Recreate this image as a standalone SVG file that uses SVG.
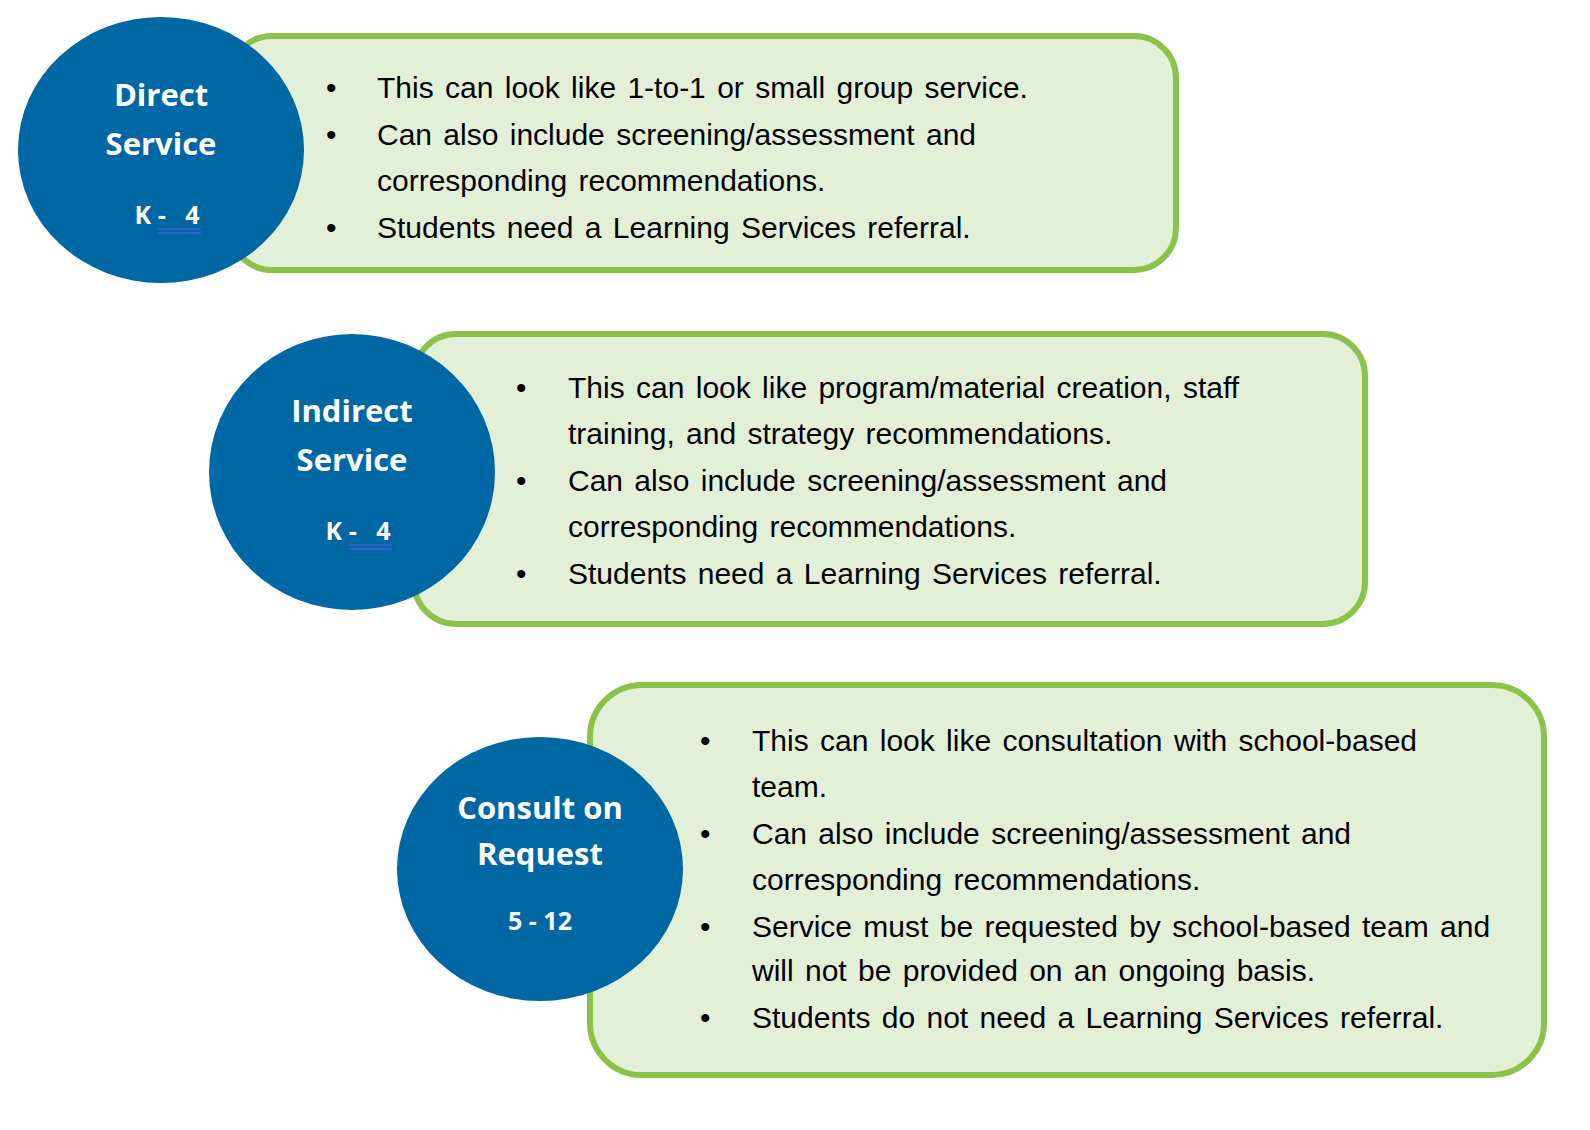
<svg xmlns="http://www.w3.org/2000/svg" width="1590" height="1130" viewBox="0 0 1590 1130">
<style>
.box{fill:#E3F0D8;stroke:#8BC34A;stroke-width:6}
.circ{fill:#0067A5}
.t{font-family:"Liberation Sans",Arial,sans-serif;font-size:30px;word-spacing:3px;fill:#000}
.b{font-family:"Liberation Sans",Arial,sans-serif;font-size:30px;fill:#000}
.h{font-family:"Open Sans","Liberation Sans",sans-serif;font-weight:bold;font-size:31px;fill:#fff;text-anchor:middle}
.g{font-family:"Open Sans","Liberation Sans",sans-serif;font-weight:bold;font-size:25px;fill:#fff;text-anchor:middle}
.ul{stroke:#3A5FD9;stroke-width:1.6}
</style>
<rect width="1590" height="1130" fill="#fff"/>
<g id="node-direct">
<rect class="box" x="230" y="36" width="946" height="234" rx="42"/>
<ellipse class="circ" cx="161" cy="150" rx="143" ry="133"/>
<text class="h" x="161" y="106">Direct</text>
<text class="h" x="161" y="155">Service</text>
<text class="g" x="167" y="224" xml:space="preserve">K -   4</text>
<line class="ul" x1="158" y1="229" x2="201" y2="229"/>
<line class="ul" x1="158" y1="233" x2="201" y2="233"/>
<g class="b">
<text x="326" y="98">•</text><text x="326" y="145">•</text><text x="326" y="238">•</text>
</g>
<g class="t">
<text x="377" y="98">This can look like 1-to-1 or small group service.</text>
<text x="377" y="145">Can also include screening/assessment and</text>
<text x="377" y="191">corresponding recommendations.</text>
<text x="377" y="238">Students need a Learning Services referral.</text>
</g>
</g>
<g id="node-indirect">
<rect class="box" x="414" y="334" width="951" height="290" rx="42"/>
<ellipse class="circ" cx="352" cy="472" rx="143" ry="138"/>
<text class="h" x="352" y="422">Indirect</text>
<text class="h" x="352" y="471">Service</text>
<text class="g" x="358" y="540" xml:space="preserve">K -   4</text>
<line class="ul" x1="349" y1="545" x2="392" y2="545"/>
<line class="ul" x1="349" y1="549" x2="392" y2="549"/>
<g class="b">
<text x="516" y="398">•</text><text x="516" y="491">•</text><text x="516" y="584">•</text>
</g>
<g class="t">
<text x="568" y="398">This can look like program/material creation, staff</text>
<text x="568" y="444">training, and strategy recommendations.</text>
<text x="568" y="491">Can also include screening/assessment and</text>
<text x="568" y="537">corresponding recommendations.</text>
<text x="568" y="584">Students need a Learning Services referral.</text>
</g>
</g>
<g id="node-consult">
<rect class="box" x="590" y="685" width="954" height="390" rx="52"/>
<ellipse class="circ" cx="540" cy="869" rx="143" ry="132"/>
<text class="h" x="540" y="819">Consult on</text>
<text class="h" x="540" y="865">Request</text>
<text class="g" x="540" y="930">5 - 12</text>
<g class="b">
<text x="700" y="751">•</text><text x="700" y="844">•</text><text x="700" y="937">•</text><text x="700" y="1028">•</text>
</g>
<g class="t">
<text x="752" y="751">This can look like consultation with school-based</text>
<text x="752" y="797">team.</text>
<text x="752" y="844">Can also include screening/assessment and</text>
<text x="752" y="890">corresponding recommendations.</text>
<text x="752" y="937">Service must be requested by school-based team and</text>
<text x="752" y="981">will not be provided on an ongoing basis.</text>
<text x="752" y="1028">Students do not need a Learning Services referral.</text>
</g>
</g>
<g id="connectors"></g>
</svg>
